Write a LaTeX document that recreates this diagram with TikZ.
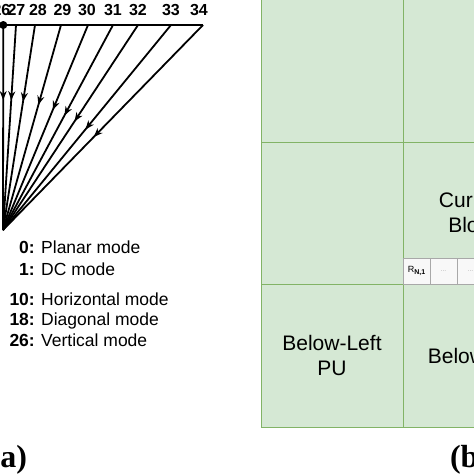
\documentclass[tikz,border=0pt]{standalone}
\usepackage{fontspec}
\setmainfont{Liberation Sans}
\newfontfamily\serifbold{Liberation Serif}
\usetikzlibrary{arrows.meta,decorations.markings}
\definecolor{cellfill}{HTML}{D5E8D4}
\definecolor{celldraw}{HTML}{82B366}
\definecolor{rfill}{HTML}{F8F8F8}
\definecolor{rdraw}{HTML}{A8A8A8}
\begin{document}
\begin{tikzpicture}[x=1pt,y=-1pt,
  ray/.style={line width=1.8pt, postaction={decorate},
    decoration={markings, mark=at position -130pt with {\arrow{Stealth[length=9pt,width=7pt]}}}},
  toplab/.style={anchor=base, inner sep=0pt, font=\fontsize{16}{19}\selectfont\bfseries},
  legnum/.style={anchor=base east, inner sep=0pt, font=\fontsize{17.5}{21}\selectfont\bfseries},
  legtxt/.style={anchor=base west, inner sep=0pt, font=\fontsize{17.5}{21}\selectfont},
  cell/.style={draw=celldraw, fill=cellfill, line width=0.8pt, anchor=north west,
    inner sep=0pt, outer sep=0pt, minimum width=142pt, align=center,
    font=\fontsize{21}{25}\selectfont},
  rcell/.style={draw=rdraw, fill=rfill, line width=0.6pt, anchor=north west,
    inner sep=0pt, outer sep=0pt, minimum width=27pt, minimum height=26pt},
  dots/.style={text=gray!60, font=\fontsize{7}{8}\selectfont},
  panel/.style={anchor=base, inner sep=0pt, font=\fontsize{32}{38}\selectfont\serifbold\bfseries}]
\useasboundingbox (0,0) rectangle (474,474);
\clip (0,0) rectangle (474,474);
\fill[white] (0,0) rectangle (474,474);

% ---------- panel (a): angular modes ----------
\coordinate (conv) at (3,230);
\foreach \n/\x in {26/3.3,27/16,28/35,29/61,30/88,31/113,32/138,33/171,34/203}
  {\coordinate (t\n) at (\x,25);}
\draw[line width=1.8pt] (t26) -- (t34);
\foreach \n in {26,...,34} {\draw[ray] (t\n) -- (conv);}
\node[circle, fill=black, inner sep=0pt, minimum size=8pt] (dot) at (t26) {};
\foreach \n/\x in {26/1.5,27/16.5,28/38,29/62.5,30/87,31/113,32/138,33/171,34/199}
  {\node[toplab] (l\n) at (\x,15) {\n};}

\node[legnum] (n0)  at (35,253) {0:};
\node[legtxt] (m0)  at (41,253) {Planar mode};
\node[legnum] (n1)  at (35,275) {1:};
\node[legtxt] (m1)  at (41,275) {DC mode};
\node[legnum] (n10) at (35,305) {10:};
\node[legtxt] (m10) at (41,305) {Horizontal mode};
\node[legnum] (n18) at (35,325) {18:};
\node[legtxt] (m18) at (41,325) {Diagonal mode};
\node[legnum] (n26) at (35,346) {26:};
\node[legtxt] (m26) at (41,346) {Vertical mode};

\node[panel] (pa) at (8.3,467) {(a)};

% ---------- panel (b): neighbouring blocks ----------
\node[cell, minimum height=146pt] (aboveleft) at (261,-4) {};
\node[cell, minimum height=146pt] (above) at (403,-4) {};
\node[cell, minimum height=142pt] (left) at (261,142) {};
\node[cell, minimum height=142pt] (cur) at (403,142) {};
\node[cell, minimum height=143pt] (belowleft) at (261,284) {Below-Left\\PU};
\node[cell, minimum height=143pt] (below) at (403,284) {Below PU};
\node[align=center, font=\fontsize{21}{25}\selectfont] (curtxt) at (474,213) {Current\\Block};

\node[rcell] (r1) at (403,258) {\fontsize{9}{10}\selectfont R\raisebox{-2pt}{\fontsize{7}{8}\selectfont\bfseries N,1}};
\node[rcell] (r2) at (430,258) {};
\node[rcell] (r3) at (457,258) {};
\node[dots] (d2) at (r2.center) {...};
\node[dots] (d3) at (r3.center) {...};

\node[panel] (pb) at (469.6,467) {(b)};
\end{tikzpicture}
\end{document}
